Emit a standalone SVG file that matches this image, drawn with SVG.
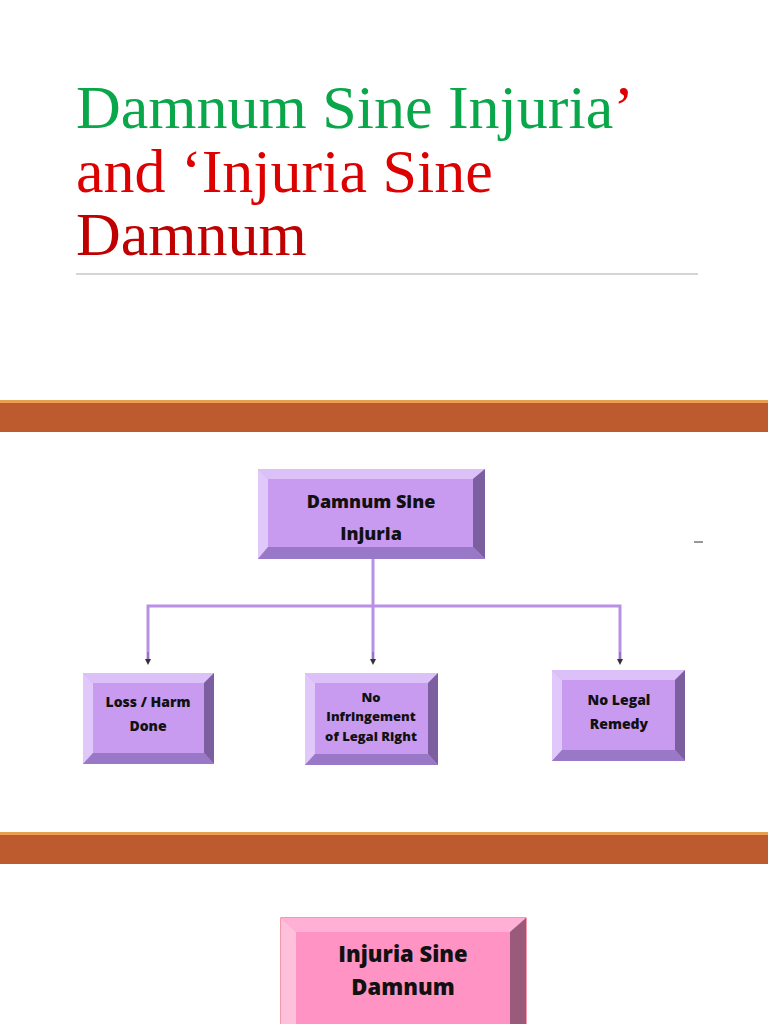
<svg xmlns="http://www.w3.org/2000/svg" width="768" height="1024" viewBox="0 0 768 1024">
<defs>
<style>
.t{font-family:"Liberation Serif",serif;font-size:62px}
.b{font-family:"Open Sans","DejaVu Sans",sans-serif;font-weight:800;font-size:18px;fill:#111;text-anchor:middle}
.s{font-family:"Open Sans","DejaVu Sans",sans-serif;font-weight:800;font-size:14px;fill:#111;text-anchor:middle}
.c{fill:none;stroke:#b890e6;stroke-width:3}
</style>
<marker id="a" markerWidth="6" markerHeight="6" refX="3" refY="3" orient="auto"><path d="M0,0 L6,3 L0,6z" fill="#333"/></marker>
</defs>
<rect width="768" height="1024" fill="#fff"/>
<text class="t" x="76" y="128" fill="#0aa64a">Damnum Sine Injuria<tspan fill="#dd0000">’</tspan></text>
<text class="t" x="76" y="192" fill="#dd0000">and ‘Injuria Sine</text>
<text class="t" x="76" y="255" fill="#c00000">Damnum</text>
<line x1="76" y1="274" x2="698" y2="274" stroke="#aaa" stroke-width="1"/>
<rect x="0" y="400" width="768" height="32" fill="#bd5a2e"/>
<rect x="0" y="400" width="768" height="3" fill="#e8a050"/>
<rect x="0" y="832" width="768" height="32" fill="#bd5a2e"/>
<rect x="0" y="832" width="768" height="3" fill="#e8a050"/>
<line x1="694" y1="542" x2="703" y2="542" stroke="#333" stroke-width="1"/>
<g id="connectors">
<path class="c" d="M373,559 V660"/>
<path class="c" d="M148,660 V606 H620 V660"/>
<path d="M373,652 V662" stroke="#7a5aa8" stroke-width="1" marker-end="url(#a)"/>
<path d="M148,652 V662" stroke="#7a5aa8" stroke-width="1" marker-end="url(#a)"/>
<path d="M620,652 V662" stroke="#7a5aa8" stroke-width="1" marker-end="url(#a)"/>
</g>
<g id="n1">
<rect x="258" y="469" width="227" height="90" fill="#c89af0"/>
<polygon points="258,469 485,469 473,479 268,479" fill="#dcc0f8"/>
<polygon points="258,469 268,479 268,547 258,559" fill="#e0c8fa"/>
<polygon points="485,469 485,559 473,547 473,479" fill="#7b5f9e"/>
<polygon points="258,559 485,559 473,547 268,547" fill="#9a78c8"/>
<text class="b" x="371" y="508">Damnum Sine</text>
<text class="b" x="371" y="540">Injuria</text>
</g>
<g id="n2">
<rect x="83" y="673" width="131" height="91" fill="#c89af0"/>
<polygon points="83,673 214,673 204,683 93,683" fill="#dcc0f8"/>
<polygon points="83,673 93,683 93,753 83,764" fill="#e0c8fa"/>
<polygon points="214,673 214,764 204,753 204,683" fill="#7b5f9e"/>
<polygon points="83,764 214,764 204,753 93,753" fill="#9a78c8"/>
<text class="s" x="148" y="707">Loss / Harm</text>
<text class="s" x="148" y="731">Done</text>
</g>
<g id="n3">
<rect x="305" y="673" width="133" height="92" fill="#c89af0"/>
<polygon points="305,673 438,673 428,683 315,683" fill="#dcc0f8"/>
<polygon points="305,673 315,683 315,754 305,765" fill="#e0c8fa"/>
<polygon points="438,673 438,765 428,754 428,683" fill="#7b5f9e"/>
<polygon points="305,765 438,765 428,754 315,754" fill="#9a78c8"/>
<text class="s" x="371" y="702" style="font-size:13px">No</text>
<text class="s" x="371" y="721" style="font-size:13px">Infringement</text>
<text class="s" x="371" y="741" style="font-size:13px">of Legal Right</text>
</g>
<g id="n4">
<rect x="552" y="670" width="133" height="91" fill="#c89af0"/>
<polygon points="552,670 685,670 675,680 562,680" fill="#dcc0f8"/>
<polygon points="552,670 562,680 562,750 552,761" fill="#e0c8fa"/>
<polygon points="685,670 685,761 675,750 675,680" fill="#7b5f9e"/>
<polygon points="552,761 685,761 675,750 562,750" fill="#9a78c8"/>
<text class="s" x="619" y="705">No Legal</text>
<text class="s" x="619" y="729">Remedy</text>
</g>
<g id="n5">
<rect x="281" y="918" width="245" height="120" fill="#ff94c4" stroke="#ee3355" stroke-width="1"/>
<polygon points="281,918 526,918 510,932 296,932" fill="#ffb0d4"/>
<polygon points="281,918 296,932 296,1024 281,1024" fill="#ffc0dc"/>
<polygon points="526,918 526,1024 510,1024 510,932" fill="#9a5a7a"/>
<text class="b" x="403" y="962" style="font-size:22px">Injuria Sine</text>
<text class="b" x="403" y="995" style="font-size:22px">Damnum</text>
</g>
</svg>
